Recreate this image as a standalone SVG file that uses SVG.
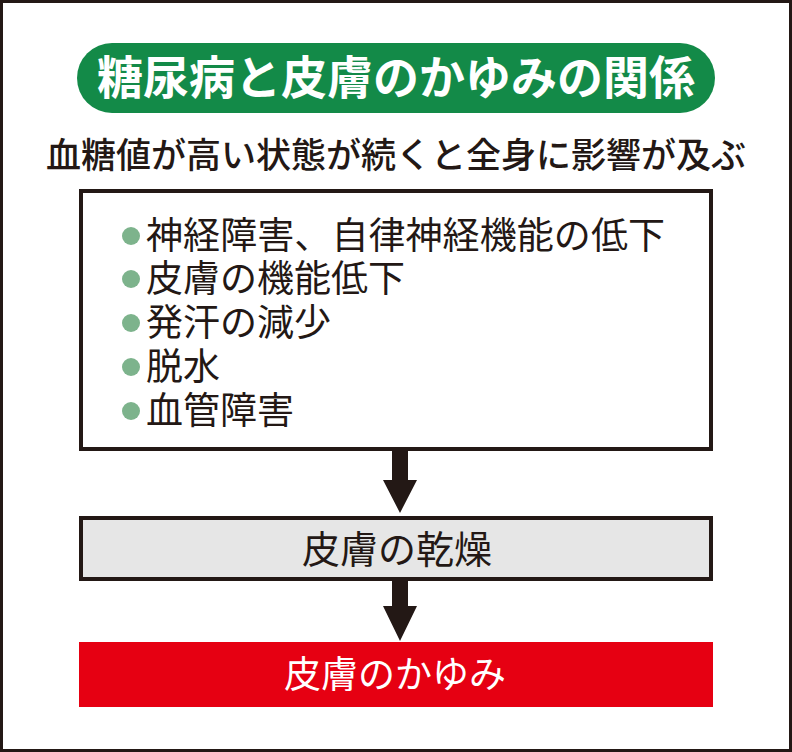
<svg xmlns="http://www.w3.org/2000/svg" width="792" height="752" viewBox="0 0 792 752">
<style>
text{font-family:"Noto Sans CJK JP","Noto Sans",sans-serif;fill:#231815}
.item{font-size:37px}
.dot{fill:#7db38c}
.box{stroke:#231815;stroke-width:4}
.arrow{fill:#231815}
</style>
<rect x="1.5" y="1.5" width="789" height="749" fill="#fff" stroke="#231815" stroke-width="3"/>
<g id="title">
<rect x="77" y="43" width="638" height="70" rx="35" fill="#138a48"/>
<text x="396" y="94" text-anchor="middle" font-size="46" font-weight="bold" style="fill:#fff">糖尿病と皮膚のかゆみの関係</text>
</g>
<g id="subtitle">
<text x="396" y="168" text-anchor="middle" font-size="35" font-weight="500">血糖値が高い状態が続くと全身に影響が及ぶ</text>
</g>
<g id="causes">
<rect class="box" x="81" y="191" width="630" height="258" fill="#fff"/>
<circle class="dot" cx="131" cy="236" r="9"/>
<text class="item" x="146" y="249" textLength="519" lengthAdjust="spacing">神経障害、自律神経機能の低下</text>
<circle class="dot" cx="131" cy="279" r="9"/>
<text class="item" x="146" y="292">皮膚の機能低下</text>
<circle class="dot" cx="131" cy="323" r="9"/>
<text class="item" x="146" y="336">発汗の減少</text>
<circle class="dot" cx="131" cy="367" r="9"/>
<text class="item" x="146" y="380">脱水</text>
<circle class="dot" cx="131" cy="411" r="9"/>
<text class="item" x="146" y="424">血管障害</text>
</g>
<g id="dryness">
<rect class="box" x="81" y="518" width="630" height="61" fill="#e6e6e6"/>
<text x="397" y="563" text-anchor="middle" font-size="38">皮膚の乾燥</text>
</g>
<g id="itch">
<rect x="79" y="642" width="634" height="65" fill="#e60012"/>
<text x="395" y="688" text-anchor="middle" font-size="37" style="fill:#fff">皮膚のかゆみ</text>
</g>
<g id="connectors">
<path class="arrow" d="M392 451 H408 V480 H417 L400 513 L383 480 H392 Z"/>
<path class="arrow" d="M392 581 H408 V606 H417 L400 641 L383 606 H392 Z"/>
</g>
</svg>
